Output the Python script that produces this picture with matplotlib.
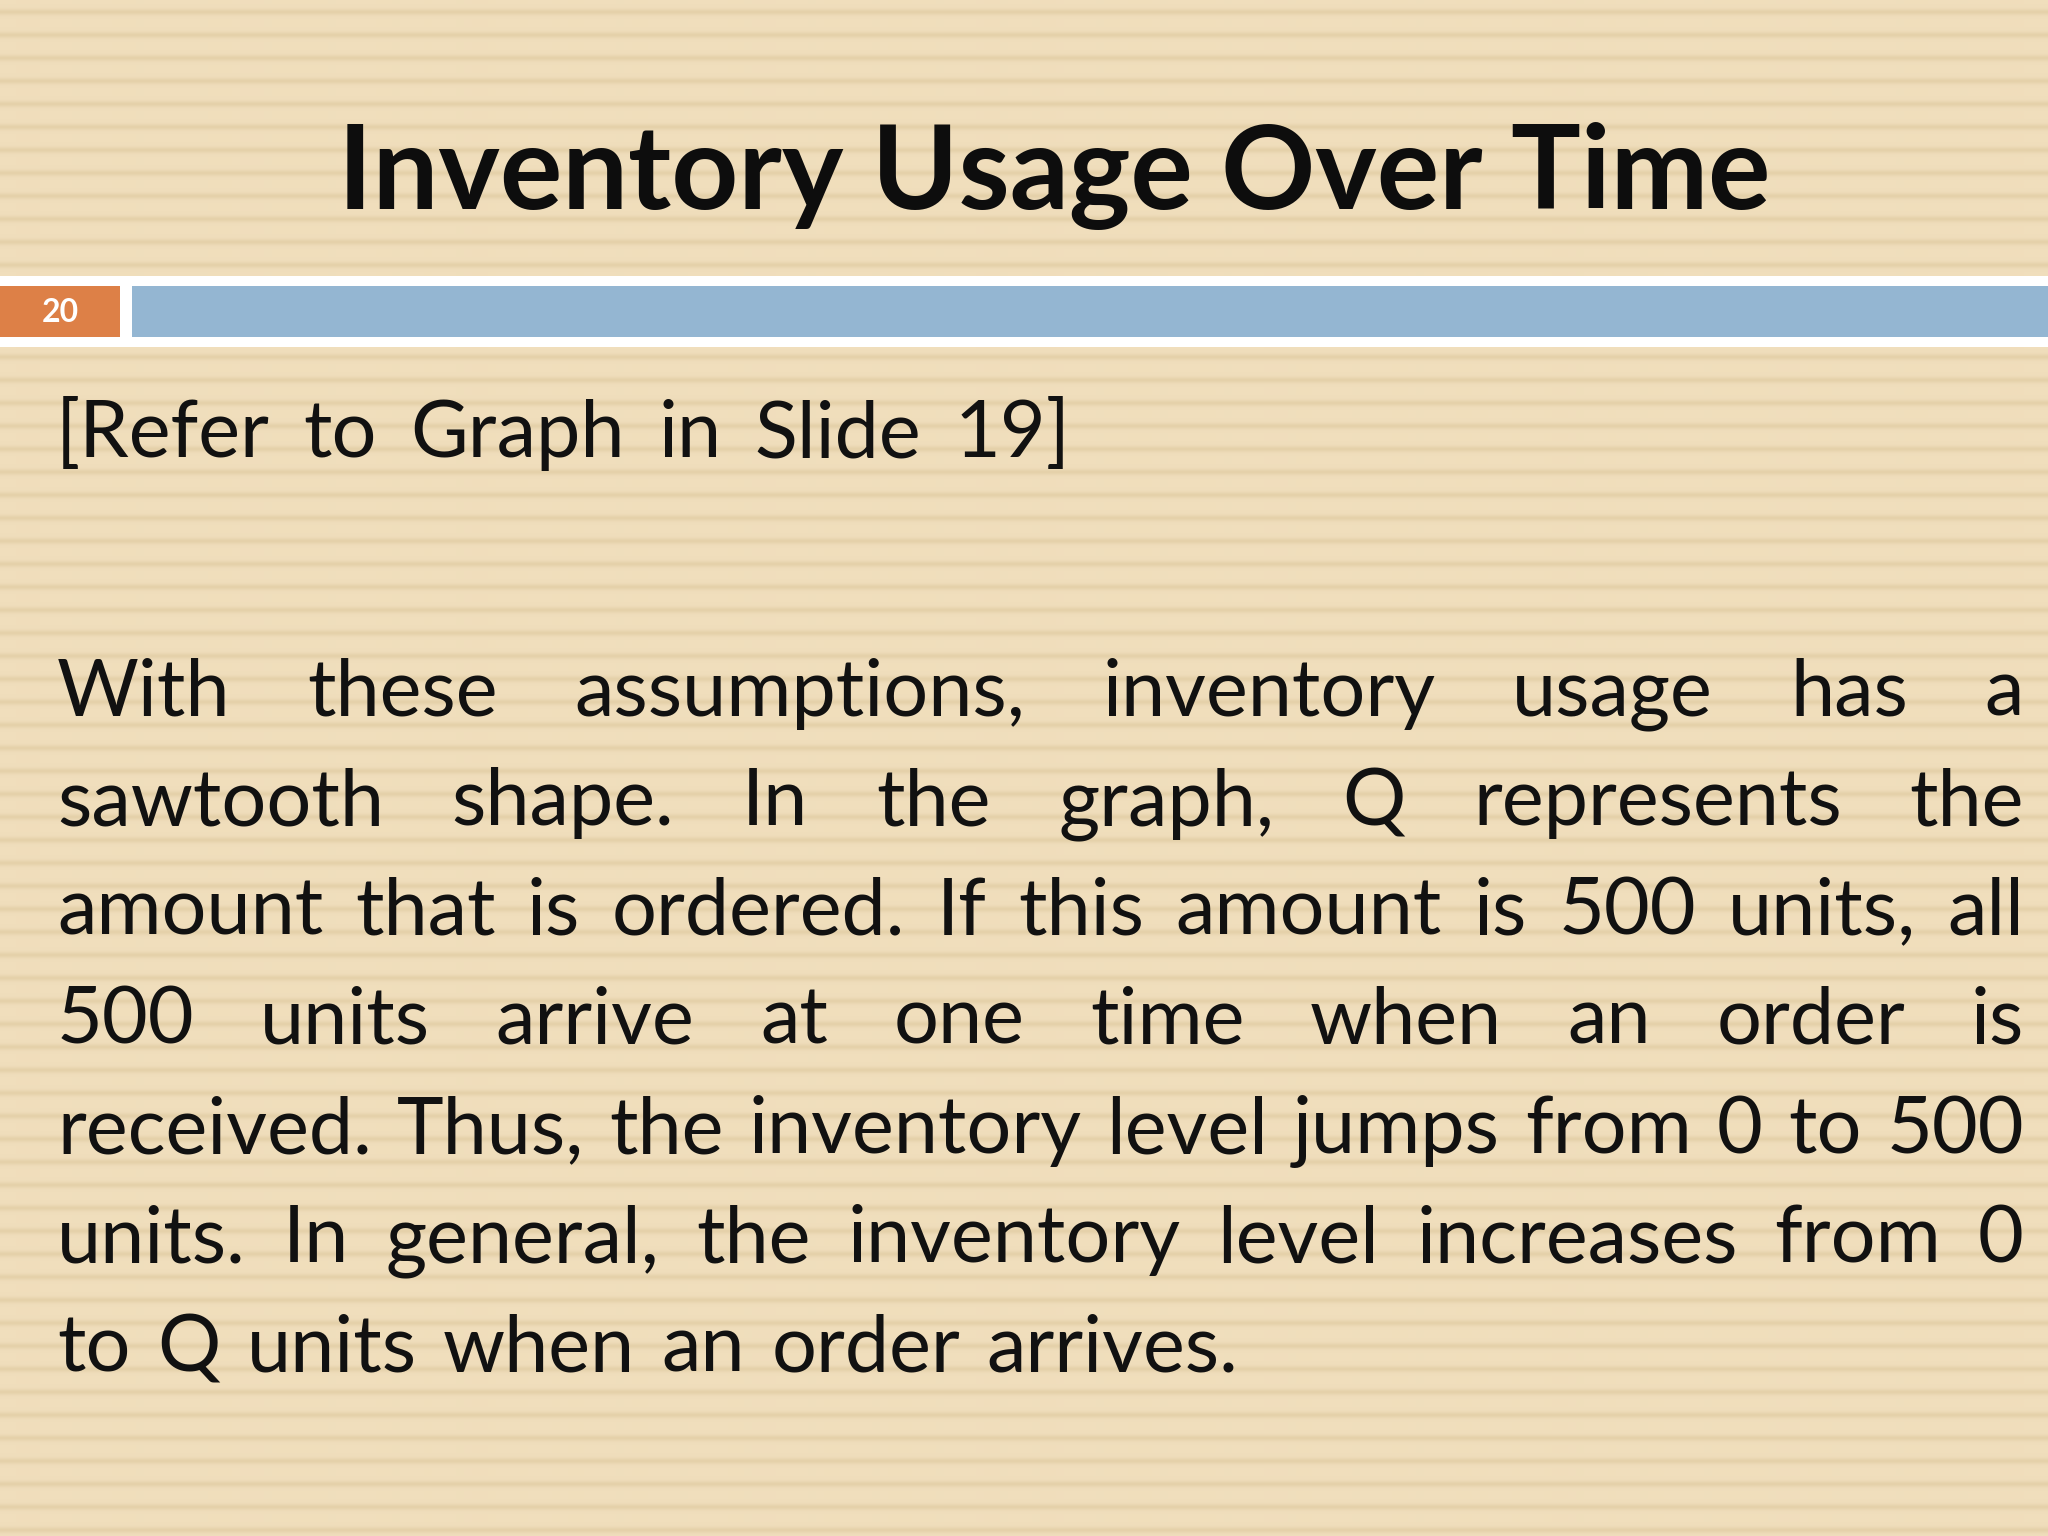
import numpy as np
import matplotlib
matplotlib.use("Agg")
import matplotlib.pyplot as plt
from matplotlib.colors import LinearSegmentedColormap

# slide content
title = "Inventory Usage Over Time"
slide_no = "20"
subtitle = "[Refer to Graph in Slide 19]"
body_lines = [
    "With these assumptions, inventory usage has a",
    "sawtooth shape. In the graph, Q represents the",
    "amount that is ordered. If this amount is 500 units, all",
    "500 units arrive at one time when an order is",
    "received. Thus, the inventory level jumps from 0 to 500",
    "units. In general, the inventory level increases from 0",
    "to Q units when an order arrives.",
]

W, H = 2048, 1536
fig = plt.figure(figsize=(W / 100, H / 100), dpi=100)
ax = fig.add_axes([0, 0, 1, 1])
ax.set_xlim(0, W)
ax.set_ylim(H, 0)
ax.axis("off")

# striped paper background
yy = np.arange(H)
phase = (yy % 23) / 23.0
stripe = np.exp(-((phase - 0.5) ** 2) / (2 * 0.09 ** 2))
bg = LinearSegmentedColormap.from_list("bg", ["#F0DEBC", "#E2CEA6"])
ax.imshow(stripe[:, None] * 0.8, cmap=bg, vmin=0, vmax=1, aspect="auto",
          extent=[0, W, H, 0], interpolation="bilinear")

# header band
ax.add_patch(plt.Rectangle((0, 276), W, 71, color="white", lw=0))
ax.add_patch(plt.Rectangle((0, 286), 120, 51, color="#DD8047", lw=0))
ax.add_patch(plt.Rectangle((132, 286), W - 132, 51, color="#94B6D2", lw=0))
ax.text(60, 312, slide_no, color="white", fontsize=23, fontweight="bold",
        family="Lato", ha="center", va="center")

ax.text(1054, 209, title, fontsize=84, fontweight="bold", family="Lato",
        ha="center", va="baseline", color="#0d0d0d")

renderer = fig.canvas.get_renderer()
fs = 57


def put_words(words, y, left, right=None, gap=None):
    # place words one by one, spreading them to the right edge if given
    arts = [ax.text(0, y, w, fontsize=fs, family="Lato", ha="left",
                    va="baseline", color="#111111") for w in words]
    widths = [a.get_window_extent(renderer).width for a in arts]
    if right is not None:
        gap = (right - left - sum(widths)) / (len(words) - 1)
    x = left
    for a, w in zip(arts, widths):
        a.set_x(x)
        x += w + gap


put_words(subtitle.split(), 457, 56, right=1071)

# justified body text
left, right = 57, 2024
base0, step = 716, 109.3
for i, line in enumerate(body_lines):
    y = base0 + i * step
    if i < len(body_lines) - 1:
        put_words(line.split(), y, left, right=right)
    else:
        put_words(line.split(), y, left, right=1238)

fig.savefig("out.png", dpi=100)
